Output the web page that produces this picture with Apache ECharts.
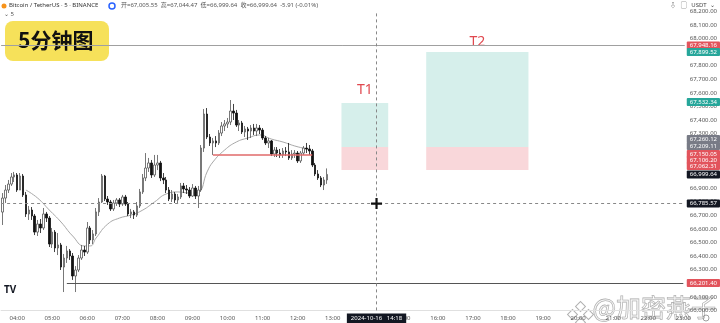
<!DOCTYPE html>
<html><head><meta charset="utf-8">
<script src="https://cdn.jsdelivr.net/npm/echarts@6/dist/echarts.min.js"></script>
<style>html,body{margin:0;padding:0;background:#fff}#c{width:720px;height:323px}</style>
</head><body><div id="c"></div>
<script>
// 5-minute candles, BTC/USDT, starting 03:35
const openP = [66723,66826,66885,66929,66981,66996,66885,66988,66849,66709,
66738,66694,66576,66635,66606,66709,66679,66488,66576,66459,
66481,66319,66385,66437,66400,66253,66297,66385,66444,66429,
66606,66518,66562,66724,66797,66988,66819,66797,66746,66790,
66812,66782,66834,66782,66709,66724,66701,66768,66871,66974,
67047,67084,66996,67069,67084,66974,66959,66885,66819,66856,
66812,66834,66915,66893,66885,66841,66900,66841,66885,67194,
67444,67275,67231,67246,67231,67304,67356,67371,67385,67466,
67451,67363,67378,67312,67334,67319,67341,67319,67341,67326,
67268,67231,67246,67150,67179,67157,67143,67172,67165,67121,
67150,67157,67099,67157,67194,67187,67172,67069,67003,66974,
66922,66959];
const closeP = [66826,66885,66929,66981,66996,66885,66988,66849,66709,66738,
66694,66576,66635,66606,66709,66679,66488,66576,66459,66481,
66319,66385,66437,66400,66253,66297,66385,66444,66429,66606,
66518,66562,66724,66797,66988,66819,66797,66746,66790,66812,
66782,66834,66782,66709,66724,66701,66768,66871,66974,67047,
67084,66996,67069,67084,66974,66959,66885,66819,66856,66812,
66834,66915,66893,66885,66841,66900,66841,66885,67194,67444,
67275,67231,67246,67231,67304,67356,67371,67385,67466,67451,
67363,67378,67312,67334,67319,67341,67319,67341,67326,67268,
67231,67246,67150,67179,67157,67143,67172,67165,67121,67150,
67157,67099,67157,67194,67187,67172,67069,67003,66974,66922,
66959,66999.64];
const lowP = [66628,66790,66863,66915,66944,66871,66885,66834,66687,66665,
66665,66554,66547,66569,66591,66650,66466,66459,66429,66407,
66297,66135,66349,66371,66224,66135,66282,66371,66400,66415,
66488,66488,66547,66694,66790,66804,66775,66731,66731,66768,
66760,66768,66768,66694,66679,66672,66687,66753,66856,66951,
67018,66974,66981,67032,66951,66929,66863,66804,66797,66790,
66782,66819,66863,66856,66826,66834,66819,66753,66871,67165,
67260,67209,67143,67201,67216,67282,67319,67341,67363,67400,
67349,67319,67297,67275,67253,67268,67290,67282,67297,67253,
67216,67194,67135,67128,67128,67121,67121,67135,67106,67106,
67121,67084,67084,67143,67157,67143,67054,66988,66959,66907,
66885,66930];
const highP = [66863,66922,66959,67010,67018,67010,67010,67003,66871,66768,
66760,66709,66665,66672,66753,66724,66694,66606,66591,66569,
66496,66415,66474,66451,66422,66326,66407,66481,66474,66650,
66621,66591,66753,66826,67003,66996,66841,66812,66812,66826,
66826,66849,66849,66797,66746,66738,66797,66893,67003,67157,
67121,67106,67143,67143,67099,67010,66981,66907,66885,66871,
66856,66937,66937,66922,66907,66929,66915,66915,67216,67481,
67488,67297,67268,67282,67326,67385,67400,67415,67547,67518,
67474,67400,67393,67356,67349,67363,67371,67371,67363,67341,
67282,67268,67253,67201,67201,67187,67194,67201,67231,67179,
67179,67172,67172,67209,67231,67216,67187,67084,67032,66988,
66981,67044];
// moving average
const maTimes = ['04:15','04:35','04:55','05:15','05:35','05:55','06:05','06:15','06:35','06:55','07:15','07:35','07:55','08:15','08:35','08:55','09:10','09:25','09:35','09:55','10:15','10:35','10:55','11:15','11:35','11:55','12:15','12:25'];
const maValues = [66885,66826,66738,66650,66547,66474,66474,66532,66635,66679,66701,66738,66797,66856,66871,66863,66871,67018,67091,67179,67238,67268,67290,67260,67238,67209,67187,67172];
// price tags on the right scale
const tagValues = [67948.16, 67899.52, 67532.34, 67260.12, 67209.11, 67150.05, 67106.20, 67062.31];
const tagColors = ['#e2545c','#26a69a','#26a69a','#787b86','#787b86','#e2545c','#e2545c','#e2545c'];
const lastPrice = 66999.64;
const crossPrice = 66785.57;
const supportLevel = 66201.40;
const redLevel = 67143;
const topLevel = 67948.16;
const t1 = {x0:'13:15', x1:'14:35', entry:67201, target:67525, stop:67032};
const t2 = {x0:'15:40', x1:'18:35', entry:67201, target:67900, stop:67032};

const times = [];
for (let m = 3*60+35; m <= 23*60; m += 5) {
  times.push(String(Math.floor(m/60)).padStart(2,'0') + ':' + String(m%60).padStart(2,'0'));
}
const candles = openP.map((o,i)=>[o, closeP[i], lowP[i], highP[i]]);
const fmt = v => v.toLocaleString('en-US',{minimumFractionDigits:2, maximumFractionDigits:2});
const FF = '"Noto Sans", "Noto Sans CJK SC", sans-serif';

const tagLabel = (v,c) => ({show:true, position:'end', distance:2, formatter: fmt(v), backgroundColor:c, color:'#fff', fontSize:6, padding:[1,3,1,3], borderRadius:1, fontFamily:FF});
const tagLine = (v,c) => ({yAxis:v, lineStyle:{color:'rgba(0,0,0,0)', width:0}, label:tagLabel(v,c)});

const markLines = [
  {yAxis: topLevel, lineStyle:{color:'#a0a0a0', width:1, type:'solid'}, label:tagLabel(topLevel, tagColors[0])},
];
for (let k=1;k<tagValues.length;k++) markLines.push(tagLine(tagValues[k], tagColors[k]));
markLines.push(tagLine(lastPrice, '#131722'));
markLines.push(tagLine(supportLevel, '#e2545c'));
markLines.push([{coord:['05:25', supportLevel], lineStyle:{color:'#555', width:1.2, type:'solid'}},{coord:['23:00', supportLevel]}]);
markLines.push([{coord:['09:35', redLevel], lineStyle:{color:'#e06a6a', width:1.5, type:'solid'}},{coord:['12:25', redLevel]}]);
markLines.push({xAxis:'14:15', lineStyle:{color:'#888', width:1, type:[3,3]}, label:{show:true, position:'start', distance:3, formatter:'2024-10-16   14:18', backgroundColor:'#131722', color:'#fff', fontSize:6, padding:[2,4,2,4]}});
markLines.push({yAxis: crossPrice, lineStyle:{color:'#888', width:1, type:[3,3]}, label:tagLabel(crossPrice, '#131722')});

const chart = echarts.init(document.getElementById('c'), null, {renderer:'canvas'});
chart.setOption({
  animation:false,
  backgroundColor:'#ffffff',
  textStyle:{fontFamily:FF},
  grid:{left:1.1, right:30.9, top:11.2, bottom:12.6, containLabel:false},
  xAxis:{type:'category', data:times, boundaryGap:true,
    axisLine:{show:true, lineStyle:{color:'#e0e0e0'}}, axisTick:{show:false}, splitLine:{show:false},
    axisLabel:{interval:(i,v)=>v.endsWith(':00'), fontSize:6, color:'#555', margin:5}},
  yAxis:{type:'value', position:'right', min:66000, max:68200, interval:100, scale:true,
    axisLine:{show:false}, axisTick:{show:false}, splitLine:{show:false},
    axisLabel:{fontSize:6, color:'#555', margin:5, formatter:v=>fmt(v)}},
  series:[
    {type:'candlestick', data:candles, barWidth:2,
     itemStyle:{color:'#ffffff', color0:'#111111', borderColor:'#555555', borderColor0:'#111111', borderWidth:0.8},
     markLine:{symbol:['none','none'], silent:true, data:markLines, label:{show:false}},
     markPoint:{silent:true, data:[{coord:['14:15', crossPrice], symbol:'path://M4,0H6V4H10V6H6V10H4V6H0V4H4Z', symbolSize:11, itemStyle:{color:'#111'}, label:{show:false}}]},
     markArea:{silent:true, data:[
       [{xAxis:t1.x0, yAxis:t1.entry, itemStyle:{color:'#d6efeb'}, label:{show:true, position:'top', distance:6, formatter:'T1', color:'#e0484f', fontSize:14}},{xAxis:t1.x1, yAxis:t1.target}],
       [{xAxis:t1.x0, yAxis:t1.stop, itemStyle:{color:'#f9d7da'}},{xAxis:t1.x1, yAxis:t1.entry}],
       [{xAxis:t2.x0, yAxis:t2.entry, itemStyle:{color:'#d6efeb'}, label:{show:true, position:'top', distance:3, formatter:'T2', color:'#e0484f', fontSize:14}},{xAxis:t2.x1, yAxis:t2.target}],
       [{xAxis:t2.x0, yAxis:t2.stop, itemStyle:{color:'#f9d7da'}},{xAxis:t2.x1, yAxis:t2.entry}]
     ]}
    },
    {type:'line', data:maTimes.map((t,j)=>[t, maValues[j]]), smooth:true, symbol:'none', connectNulls:true,
     lineStyle:{color:'#a8a8a8', width:1}, z:1}
  ],
  graphic:[
    {type:'circle', shape:{cx:4, cy:6, r:2.5}, style:{fill:'#f7931a'}},
    {type:'text', left:9, top:2, style:{text:'Bitcoin / TetherUS · 5 · BINANCE', fontSize:6, fill:'#333', fontFamily:FF}},
    {type:'circle', shape:{cx:112, cy:6, r:3}, style:{fill:'#fff', stroke:'#2962ff', lineWidth:1.5}},
    {type:'text', left:121, top:2, style:{text:'开=67,005.55  高=67,044.47  低=66,999.64  收=66,999.64  -5.91 (-0.01%)', fontSize:6, fill:'#555', fontFamily:FF}},
    {type:'text', left:4, top:11, style:{text:'⌄ 5', fontSize:6, fill:'#555', fontFamily:FF}},
    {type:'text', left:670, top:2, style:{text:'⇩   ▢   USDT  ⌄', fontSize:6, fill:'#444', fontFamily:FF}},
    {type:'rect', shape:{x:5, y:21, width:104, height:40, r:8}, style:{fill:'#f6e15a'}},
    {type:'text', left:18, top:30, style:{text:'5分钟图', fontSize:21, fontWeight:'bold', fill:'#111', fontFamily:'"Noto Sans CJK SC", sans-serif'}},
    {type:'text', left:4, top:285, style:{text:'TV', fontSize:10, fontWeight:'bold', fill:'#131722', fontFamily:FF}},
    {type:'text', left:592, top:295, style:{text:'@加密燕子', fontSize:25, fill:'rgba(255,255,255,0.3)', stroke:'#a8a8a8', lineWidth:0.8, fontFamily:'"Noto Sans CJK SC", sans-serif'}},
    {type:'group', left:564, top:298, children:[
      {type:'rect', shape:{x:8, y:0, width:7, height:7}, rotation:Math.PI/4, originX:11.5, originY:3.5, style:{fill:'none', stroke:'#b0b0b0', lineWidth:1}},
      {type:'rect', shape:{x:0, y:8, width:7, height:7}, rotation:Math.PI/4, originX:3.5, originY:11.5, style:{fill:'none', stroke:'#b0b0b0', lineWidth:1}},
      {type:'rect', shape:{x:16, y:8, width:7, height:7}, rotation:Math.PI/4, originX:19.5, originY:11.5, style:{fill:'none', stroke:'#b0b0b0', lineWidth:1}},
      {type:'rect', shape:{x:8, y:16, width:7, height:7}, rotation:Math.PI/4, originX:11.5, originY:19.5, style:{fill:'none', stroke:'#b0b0b0', lineWidth:1}}
    ]},
    {type:'circle', shape:{cx:706, cy:318, r:3}, style:{fill:'none', stroke:'#888', lineWidth:0.8}}
  ]
});
</script></body></html>
